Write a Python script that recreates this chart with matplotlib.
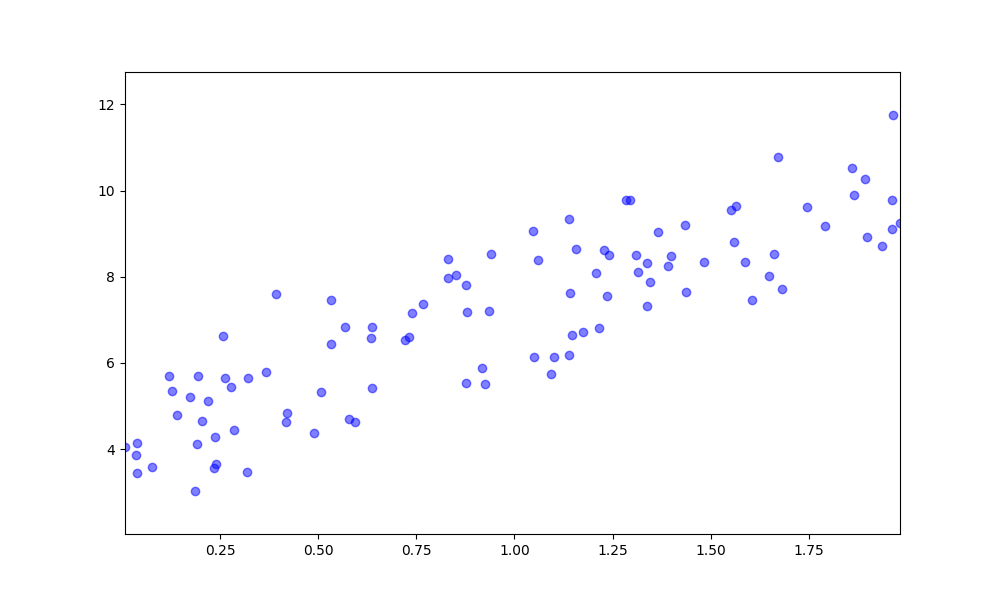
import numpy as np
import matplotlib
matplotlib.use("Agg")
import matplotlib.pyplot as plt

# points
x = [0.257, 0.120, 0.194, 0.262, 0.321, 0.367, 0.128, 0.173, 0.219, 0.276,
     0.140, 0.204, 0.420, 0.418, 0.489, 0.507, 0.285, 0.236, 0.191, 0.007,
     0.037, 0.035, 0.037, 0.076, 0.240, 0.234, 0.318, 0.185, 0.392,
     0.831, 0.941, 0.831, 0.850, 0.877, 0.531, 0.767, 0.740, 0.879, 0.935,
     0.567, 0.638, 0.633, 0.531, 0.731, 0.721, 0.916, 0.877, 0.926, 0.638,
     0.578, 0.594,
     1.284, 1.295, 1.140, 1.046, 1.435, 1.367, 1.156, 1.229, 1.241, 1.311,
     1.400, 1.484, 1.061, 1.338, 1.391, 1.208, 1.316, 1.346, 1.141, 1.237,
     1.438, 1.338, 1.215, 1.176, 1.146, 1.051, 1.101, 1.138, 1.094,
     1.964, 1.671, 1.860, 1.895, 1.865, 1.962, 1.566, 1.553, 1.747, 1.791,
     1.983, 1.962, 1.898, 1.936, 1.561, 1.589, 1.663, 1.648, 1.681, 1.605]
y = [6.63, 5.69, 5.69, 5.64, 5.65, 5.78, 5.35, 5.22, 5.12, 5.45,
     4.79, 4.65, 4.83, 4.62, 4.38, 5.32, 4.45, 4.28, 4.12, 4.05,
     4.14, 3.86, 3.45, 3.59, 3.66, 3.55, 3.48, 3.03, 7.59,
     8.41, 8.52, 7.97, 8.05, 7.81, 7.45, 7.37, 7.16, 7.18, 7.20,
     6.83, 6.83, 6.58, 6.43, 6.60, 6.53, 5.88, 5.53, 5.50, 5.42,
     4.70, 4.63,
     9.79, 9.79, 9.33, 9.06, 9.21, 9.03, 8.64, 8.62, 8.51, 8.51,
     8.48, 8.35, 8.39, 8.32, 8.25, 8.09, 8.11, 7.88, 7.63, 7.55,
     7.65, 7.32, 6.82, 6.71, 6.65, 6.14, 6.14, 6.19, 5.74,
     11.75, 10.78, 10.52, 10.27, 9.90, 9.78, 9.64, 9.55, 9.62, 9.18,
     9.25, 9.11, 8.92, 8.71, 8.80, 8.34, 8.52, 8.02, 7.71, 7.45]

x = np.array(x)
y = np.array(y)

plt.figure(figsize=(10, 6))
plt.scatter(x, y, color="blue", alpha=0.5)
plt.xlim(x.min(), x.max())
plt.ylim(y.min() - 1, y.max() + 1)
plt.savefig("out.png", dpi=100)
